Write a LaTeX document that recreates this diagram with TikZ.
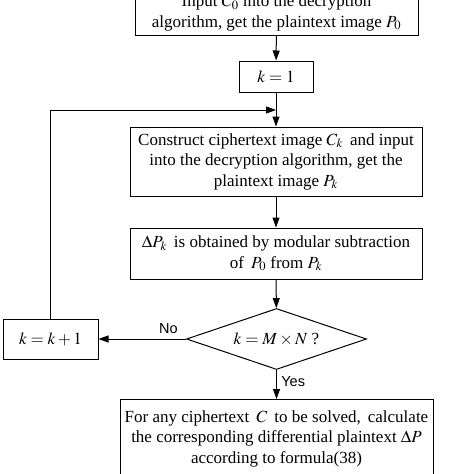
\documentclass[tikz,border=0pt]{standalone}
\usepackage{mathptmx}
\usepackage{fontspec}
\setmainfont{Liberation Serif}
\newfontfamily\labelfont{Liberation Sans}
\usetikzlibrary{arrows.meta,positioning,calc,shapes.geometric}

\begin{document}
\begin{tikzpicture}[x=1pt,y=-1pt,>={Triangle[length=10pt,width=7pt]},
  every node/.style={font=\fontsize{17}{20.5}\selectfont},
  stepbox/.style={draw,line width=1pt,align=center,inner sep=1pt},
  tag/.style={font=\labelfont\fontsize{14.5}{16}\selectfont},
  flow/.style={->,line width=1pt}]
  \useasboundingbox (0,0) rectangle (474,474);
  \clip (0,0) rectangle (474,474);
  % blocchi
  \node[stepbox,minimum width=283pt,minimum height=44pt] (input) at (276.5,13)
    {Input $C_0$ into the decryption\\algorithm, get the plaintext image $P_0$};
  \node[stepbox,minimum width=74pt,minimum height=31pt] (kone) at (276,76.5) {$k=1$};
  \node[stepbox,minimum width=292pt,minimum height=69pt] (construct) at (276,161.5)
    {Construct ciphertext image $C_k$\, and input\\into the decryption algorithm, get the\\plaintext image $P_k$};
  \node[stepbox,minimum width=292pt,minimum height=51pt] (delta) at (276,253.5)
    {$\Delta P_k$\, is obtained by modular subtraction\\of\, $P_0$ from $P_k$};
  \node[draw,line width=1pt,diamond,aspect=3,minimum width=180pt,minimum height=61pt,inner sep=0pt] (check) at (276.5,339)
    {$k=M\times N$ ?};
  \node[stepbox,minimum width=95pt,minimum height=40pt] (incr) at (50.5,339) {$k=k+1$};
  \node[stepbox,minimum width=313pt,minimum height=78pt,anchor=north] (final) at (276.5,399)
    {For any ciphertext\, $C$\, to be solved,\, calculate\\the corresponding differential plaintext $\Delta P$\\according to formula(38)};
  % frecce
  \coordinate (join) at (276,110);
  \draw[flow] (input) -- (kone);
  \draw[flow] (kone) -- (construct);
  \draw[flow] (construct) -- (delta);
  \draw[flow] (delta) -- (check);
  \draw[flow] (check) -- node[pos=0.4,right=1pt,tag] (yes) {Yes} (final);
  \draw[flow] (check) -- node[pos=0.2,above=2pt,tag] (no) {No} (incr);
  % ritorno
  \draw[flow] (incr.north) |- (join);
\end{tikzpicture}
\end{document}
